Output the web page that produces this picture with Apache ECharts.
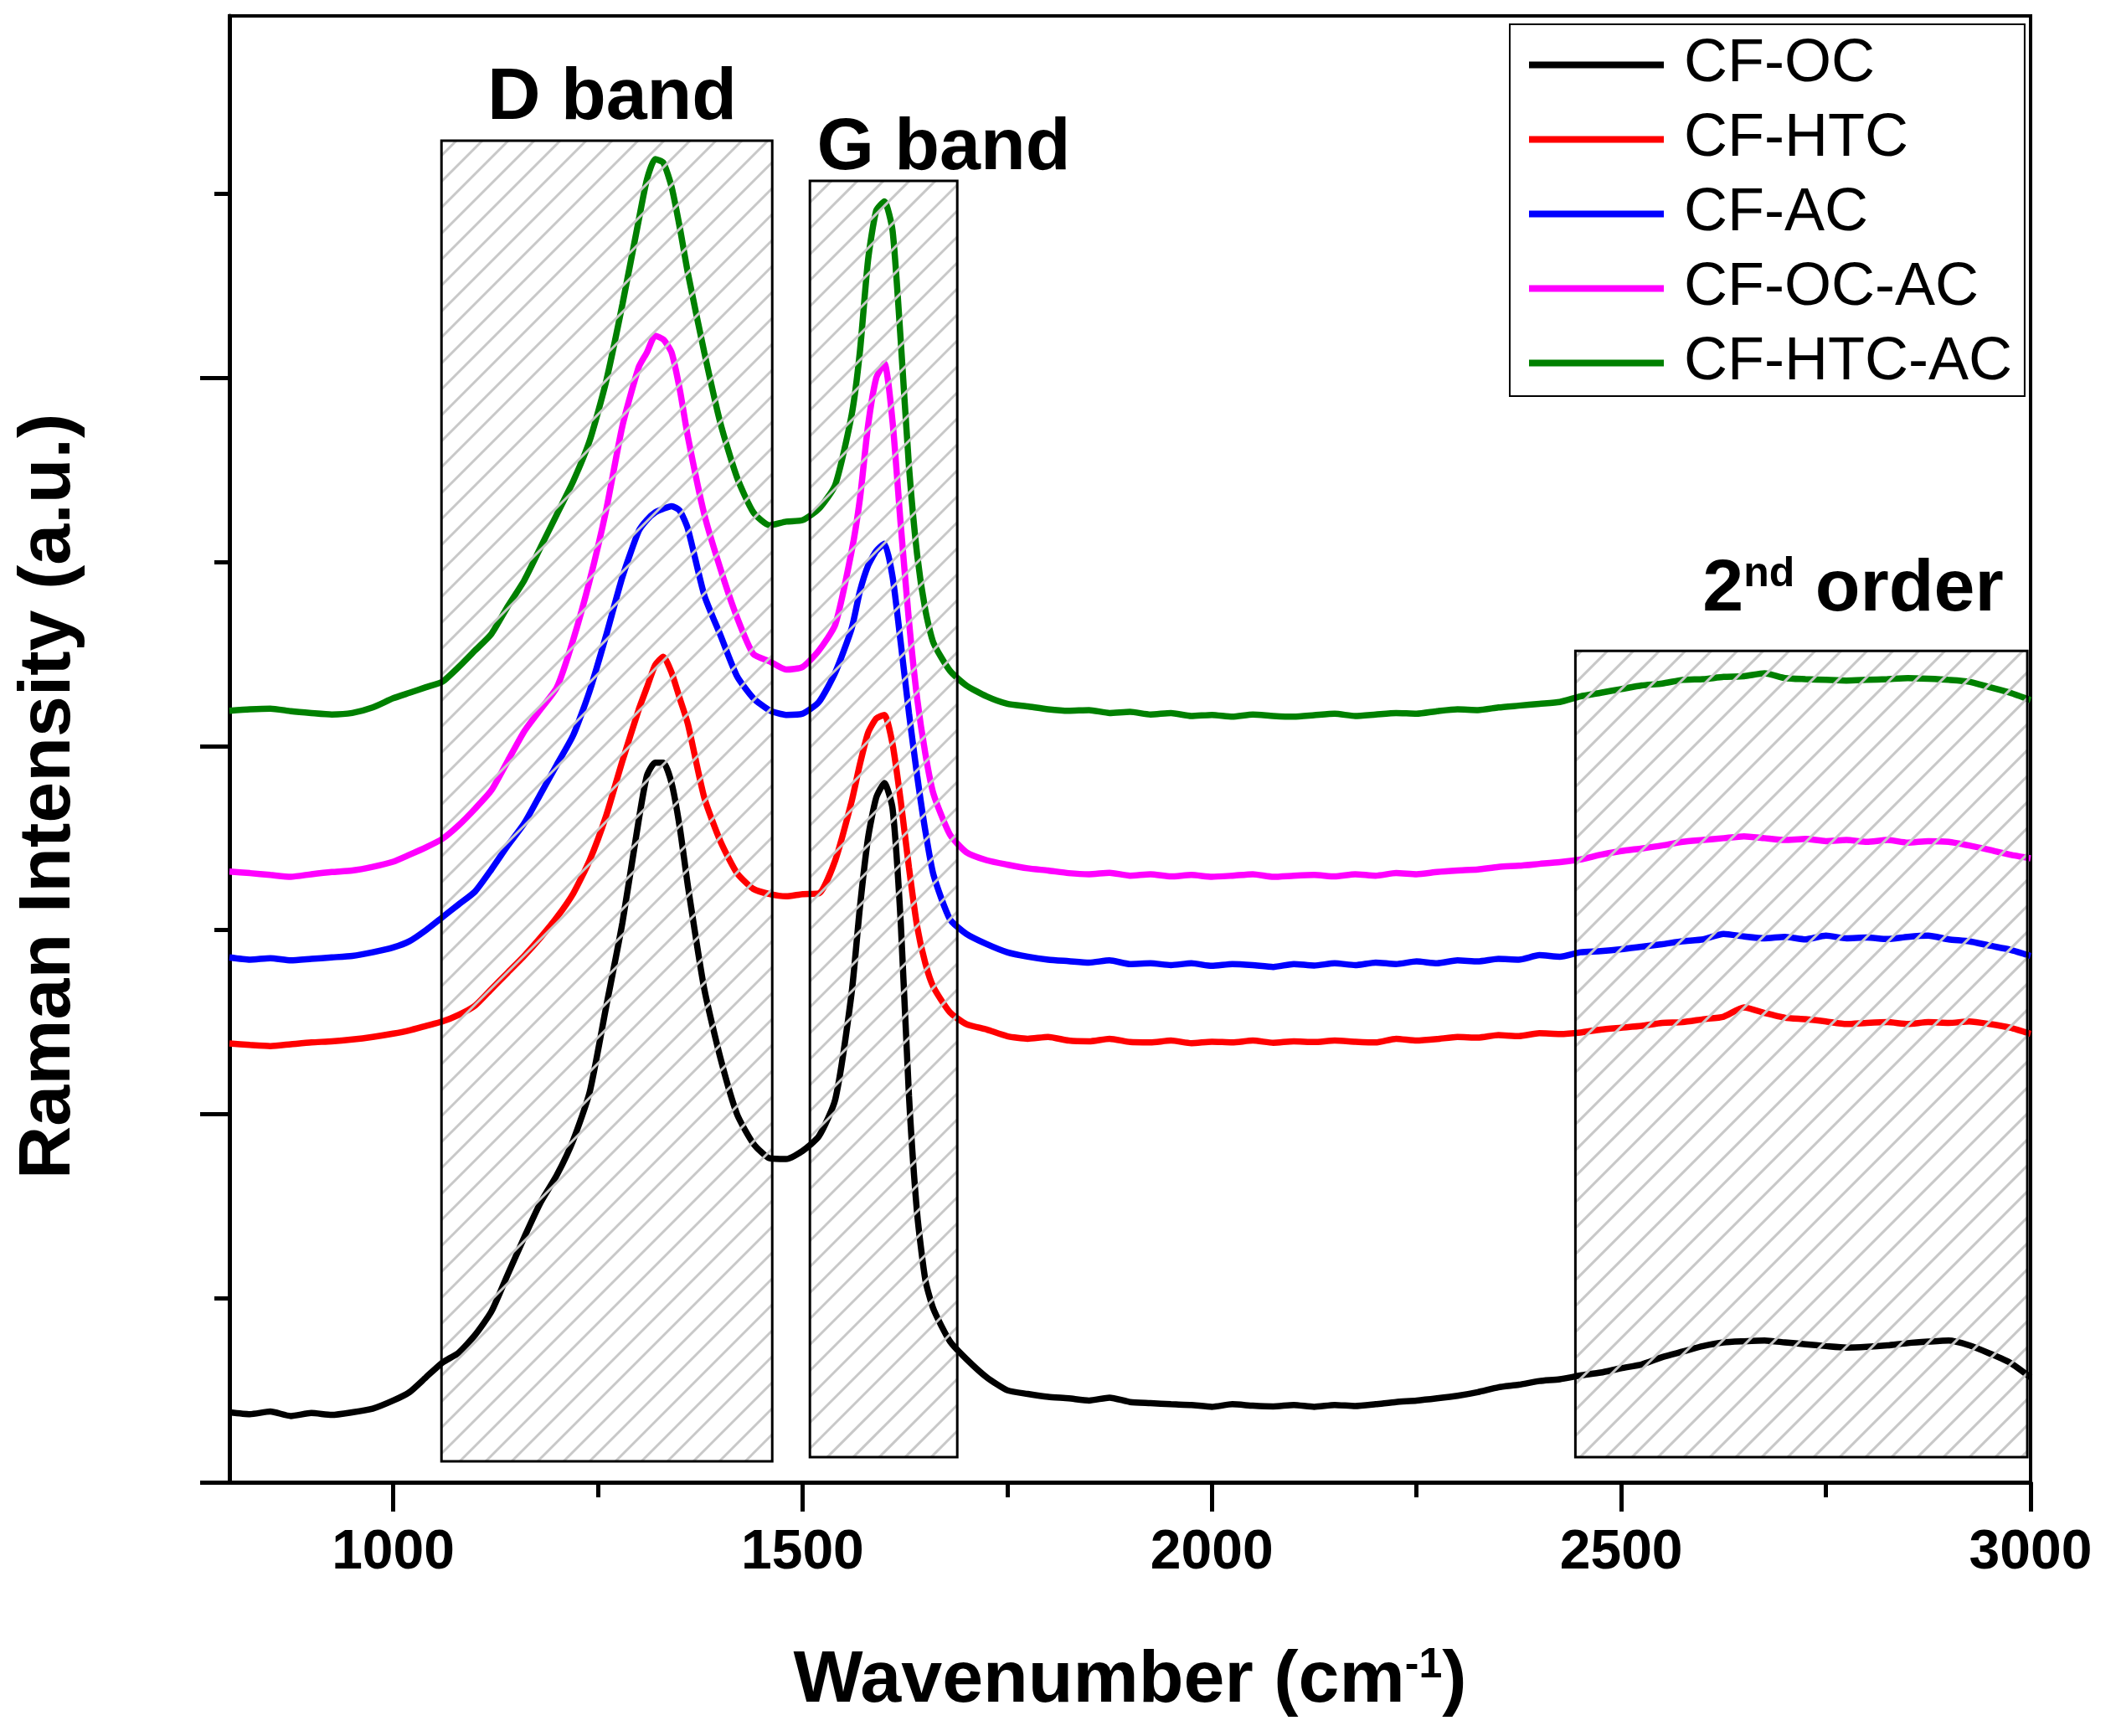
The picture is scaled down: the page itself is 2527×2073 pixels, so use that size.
<!DOCTYPE html>
<html>
<head>
<meta charset="utf-8">
<script src="https://cdn.jsdelivr.net/npm/echarts@6/dist/echarts.min.js"></script>
<style>
html,body{margin:0;padding:0;background:#fff;}
#chart{width:2527px;height:2073px;}
</style>
</head>
<body>
<div id="chart"></div>
<script>
// ---------- data ----------
const wavenumbers = [800,825,850,875,900,925,950,975,1000,
 1020,1040,1060,1080,1100,1120,1140,1160,1180,1200,1220,1240,1260,1280,1300,
 1310,1320,1330,1340,1350,
 1360,1380,1400,1420,1440,1460,1480,1500,1520,1540,1560,
 1570,1580,1590,1600,1610,1620,1630,1640,1650,1660,
 1680,1700,
 1725,1750,1775,1800,1825,1850,1875,1900,1925,1950,1975,2000,
 2025,2050,2075,2100,2125,2150,2175,2200,2225,2250,2275,2300,
 2325,2350,2375,2400,2425,2450,2475,2500,2525,2550,2575,2600,
 2625,2650,2675,2700,2725,2750,2775,2800,2825,2850,2875,2900,
 2925,2950,2975,3000];

const cfOC = [0.19,0.185,0.192,0.18,0.188,0.183,0.19,0.2,0.222,
 0.245,0.285,0.325,0.352,0.4,0.464,0.565,0.665,0.76,0.835,0.93,1.06,1.29,1.52,1.8,
 1.92,1.955,1.955,1.9,1.78,
 1.62,1.34,1.15,1.0,0.92,0.88,0.878,0.9,0.94,1.04,1.33,
 1.56,1.75,1.86,1.9,1.83,1.52,1.05,0.73,0.55,0.47,
 0.383,0.335,
 0.285,0.25,0.24,0.232,0.228,0.222,0.23,0.218,0.215,0.212,0.21,0.205,
 0.212,0.208,0.206,0.21,0.205,0.21,0.207,0.212,0.218,0.222,0.228,0.235,
 0.245,0.258,0.265,0.275,0.28,0.29,0.298,0.31,0.32,0.34,0.355,0.37,
 0.38,0.383,0.385,0.38,0.375,0.37,0.366,0.368,0.372,0.378,0.382,0.385,
 0.372,0.35,0.325,0.285];

const cfHTC = [1.192,1.188,1.185,1.19,1.195,1.198,1.203,1.21,1.219,
 1.228,1.24,1.252,1.27,1.295,1.34,1.385,1.43,1.48,1.535,1.6,1.69,1.81,1.96,2.1,
 2.16,2.22,2.243,2.2,2.13,
 2.06,1.86,1.74,1.655,1.612,1.598,1.592,1.598,1.6,1.69,1.85,
 1.95,2.036,2.075,2.085,2.005,1.85,1.67,1.51,1.41,1.345,
 1.277,1.245,
 1.23,1.212,1.205,1.21,1.2,1.198,1.205,1.196,1.195,1.2,1.193,1.197,
 1.195,1.2,1.194,1.198,1.196,1.2,1.197,1.195,1.205,1.2,1.204,1.21,
 1.208,1.215,1.212,1.22,1.218,1.222,1.23,1.235,1.24,1.248,1.25,1.258,
 1.265,1.29,1.275,1.262,1.258,1.252,1.245,1.248,1.25,1.245,1.25,1.248,
 1.252,1.245,1.235,1.218];

const cfAC = [1.426,1.42,1.424,1.418,1.422,1.426,1.43,1.44,1.453,
 1.47,1.5,1.535,1.57,1.605,1.665,1.73,1.79,1.87,1.95,2.03,2.15,2.3,2.46,2.585,
 2.615,2.635,2.645,2.652,2.64,
 2.59,2.41,2.3,2.19,2.13,2.097,2.085,2.088,2.12,2.2,2.32,
 2.42,2.49,2.53,2.55,2.46,2.28,2.09,1.92,1.77,1.65,
 1.53,1.49,
 1.462,1.44,1.428,1.42,1.416,1.412,1.418,1.408,1.41,1.405,1.41,1.403,
 1.408,1.405,1.4,1.408,1.404,1.41,1.405,1.412,1.408,1.415,1.41,1.418,
 1.415,1.422,1.42,1.432,1.428,1.44,1.443,1.448,1.455,1.462,1.47,1.475,
 1.49,1.483,1.478,1.482,1.475,1.485,1.478,1.48,1.476,1.482,1.485,1.475,
 1.47,1.458,1.447,1.43];

const cfOCAC = [1.659,1.655,1.65,1.645,1.652,1.658,1.662,1.672,1.686,
 1.705,1.725,1.748,1.785,1.83,1.88,1.96,2.04,2.1,2.16,2.29,2.45,2.64,2.87,3.03,
 3.07,3.115,3.105,3.07,2.97,
 2.84,2.63,2.48,2.35,2.25,2.23,2.208,2.215,2.26,2.33,2.53,
 2.67,2.87,3.0,3.04,2.88,2.6,2.34,2.13,1.98,1.87,
 1.76,1.712,
 1.69,1.678,1.668,1.662,1.655,1.652,1.656,1.648,1.652,1.646,1.65,1.645,
 1.648,1.652,1.645,1.648,1.65,1.646,1.652,1.648,1.655,1.652,1.658,1.662,
 1.665,1.672,1.675,1.68,1.685,1.692,1.705,1.715,1.722,1.73,1.74,1.745,
 1.75,1.755,1.75,1.745,1.748,1.742,1.745,1.74,1.745,1.738,1.742,1.74,
 1.73,1.718,1.705,1.695];

const cfHTCAC = [2.096,2.1,2.102,2.095,2.09,2.086,2.09,2.105,2.13,
 2.145,2.16,2.175,2.215,2.26,2.305,2.38,2.45,2.54,2.63,2.72,2.83,2.99,3.2,3.43,
 3.54,3.595,3.585,3.52,3.41,
 3.285,3.07,2.875,2.73,2.635,2.6,2.61,2.614,2.645,2.71,2.9,
 3.07,3.32,3.455,3.48,3.4,3.1,2.76,2.52,2.37,2.28,
 2.205,2.165,
 2.135,2.115,2.108,2.1,2.096,2.098,2.09,2.093,2.086,2.09,2.082,2.085,
 2.08,2.086,2.082,2.08,2.084,2.088,2.082,2.086,2.09,2.088,2.095,2.1,
 2.098,2.105,2.11,2.115,2.12,2.135,2.145,2.155,2.165,2.17,2.18,2.182,
 2.188,2.19,2.198,2.185,2.182,2.18,2.178,2.18,2.182,2.185,2.183,2.18,
 2.175,2.16,2.145,2.125];

const seriesNames = ['CF-OC','CF-HTC','CF-AC','CF-OC-AC','CF-HTC-AC'];
const seriesColors = ['#000000','#ff0000','#0000ff','#ff00ff','#008000'];
const seriesValues = [cfOC, cfHTC, cfAC, cfOCAC, cfHTCAC];

const xTickValues = [1000,1500,2000,2500,3000];
const xMinorTicks = [1250,1750,2250,2750];
const yTickValues = [0,1,2,3];
const yMinorTicks = [0.5,1.5,2.5,3.5];

// shaded band boxes: [x start, x end, y bottom, y top]
const bandLabels = ['D band','G band','2nd order'];
const bandX0 = [1059,1509,2444];
const bandX1 = [1463,1689,2996];
const bandY0 = [0.057,0.068,0.068];
const bandY1 = [3.645,3.536,2.259];

// ---------- chart ----------
const FONT = 'Liberation Sans, Arial, sans-serif';
const chart = echarts.init(document.getElementById('chart'), null, {renderer:'canvas'});

const lineSeries = seriesNames.map((name,k)=>({
  name: name,
  type: 'line',
  data: wavenumbers.map((x,i)=>[x, seriesValues[k][i]]),
  showSymbol: false,
  smooth: 0.2,
  color: seriesColors[k],
  lineStyle: {color: seriesColors[k], width: 7.5},
  z: 2,
  xAxisIndex: 0, yAxisIndex: 0
}));

const boxSeries = {
  type: 'custom',
  silent: true,
  z: 5,
  xAxisIndex: 0, yAxisIndex: 0,
  data: bandX0.map((x0,i)=>[x0, bandX1[i], bandY0[i], bandY1[i]]),
  encode: {x:[0,1], y:[2,3]},
  renderItem: function(params, api){
    const tl = api.coord([api.value(0), api.value(3)]);
    const br = api.coord([api.value(1), api.value(2)]);
    const L = tl[0], T = tl[1], R = br[0], B = br[1];
    const children = [];
    const step = 31;
    const cStart = Math.ceil((L+T)/step)*step;
    for (let c = cStart; c <= R+B; c += step){
      const xs = Math.max(L, c-B), xe = Math.min(R, c-T);
      if (xe > xs) children.push({type:'line', shape:{x1:xs,y1:c-xs,x2:xe,y2:c-xe},
        style:{stroke:'#c8c8c8', lineWidth:3}});
    }
    children.push({type:'rect', shape:{x:L,y:T,width:R-L,height:B-T},
      style:{fill:null, stroke:'#000', lineWidth:3}});
    return {type:'group', children: children};
  }
};

const option = {
  animation: false,
  backgroundColor: '#fff',
  grid: {left:274, top:19, width:2151, height:1751, show:true, borderColor:'#000', borderWidth:4, backgroundColor:'transparent'},
  xAxis: [{
    type:'value', min:800, max:3000,
    axisLine:{show:true, lineStyle:{color:'#000', width:5}},
    axisTick:{show:true, customValues:xTickValues, length:35, inside:false, lineStyle:{color:'#000', width:5}},
    axisLabel:{show:true, customValues:xTickValues, formatter:function(v){return String(v);},
      fontSize:66, fontWeight:'bold', fontFamily:FONT, color:'#000', margin:52},
    splitLine:{show:false},
    name:'Wavenumber (cm{sup|-1})',
    nameLocation:'middle', nameGap:194,
    nameTextStyle:{fontSize:88, fontWeight:'bold', fontFamily:FONT, color:'#000',
      rich:{sup:{fontSize:50, fontWeight:'bold', fontFamily:FONT, color:'#000', verticalAlign:'top'}}}
  },{
    type:'value', min:800, max:3000, position:'bottom',
    axisLine:{show:false},
    axisTick:{show:true, customValues:xMinorTicks, length:18, inside:false, lineStyle:{color:'#000', width:5}},
    axisLabel:{show:false, customValues:xMinorTicks},
    splitLine:{show:false}
  }],
  yAxis: [{
    type:'value', min:0, max:3.984,
    axisLine:{show:true, lineStyle:{color:'#000', width:5}},
    axisTick:{show:true, customValues:yTickValues, length:35, inside:false, lineStyle:{color:'#000', width:5}},
    axisLabel:{show:false, customValues:yTickValues},
    splitLine:{show:false}
  },{
    type:'value', min:0, max:3.984, position:'left',
    axisLine:{show:false},
    axisTick:{show:true, customValues:yMinorTicks, length:18, inside:false, lineStyle:{color:'#000', width:5}},
    axisLabel:{show:false, customValues:yMinorTicks},
    splitLine:{show:false}
  }],
  legend: {
    data: seriesNames, orient:'vertical', left:1803, top:29,
    icon:'rect', itemWidth:161, itemHeight:8, itemGap:16,
    padding:[12,15,3,23],
    borderColor:'#000', borderWidth:2, backgroundColor:'#fff',
    textStyle:{fontSize:72, fontFamily:FONT, color:'#000', lineHeight:73, padding:[0,0,0,19]},
    z: 10
  },
  graphic: [
    {type:'text', x:731, y:118, z:20, style:{text:bandLabels[0], font:'bold 88px '+FONT, fill:'#000', align:'center', verticalAlign:'middle'}},
    {type:'text', x:1127, y:178, z:20, style:{text:bandLabels[1], font:'bold 88px '+FONT, fill:'#000', align:'center', verticalAlign:'middle'}},
    {type:'text', x:2213, y:705, z:20, style:{
      text:'{a|2}{b|nd}{a| order}', align:'center', verticalAlign:'middle',
      rich:{a:{fontSize:88, fontWeight:'bold', fontFamily:FONT, fill:'#000'},
            b:{fontSize:50, fontWeight:'bold', fontFamily:FONT, fill:'#000', verticalAlign:'top'}}}},
    {type:'text', x:59, y:951, rotation:Math.PI/2, z:20, style:{text:'Raman Intensity (a.u.)', font:'bold 88px '+FONT, fill:'#000', align:'center', verticalAlign:'middle'}}
  ],
  series: lineSeries.concat([boxSeries])
};
chart.setOption(option);
</script>
</body>
</html>
